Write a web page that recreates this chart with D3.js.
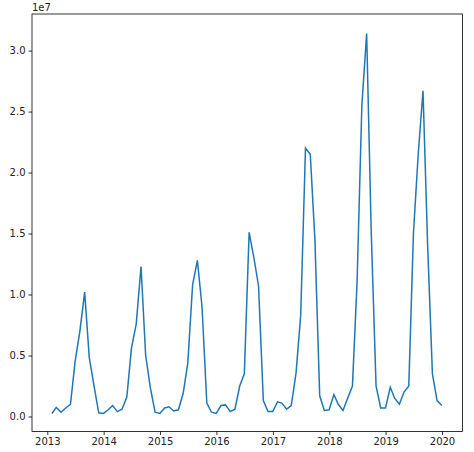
<!DOCTYPE html><html><head><meta charset="utf-8"><script src="https://d3js.org/d3.v7.min.js"></script>
<style>body{margin:0;background:#fff}text{font-family:"DejaVu Sans",sans-serif}</style></head><body><svg id="c" width="474" height="452"></svg>
<script>
const years=[2013,2014,2015,2016,2017,2018,2019];
const values=[
0.25,0.75,0.35,0.7,1.0,4.5,7.0,10.2,4.8,2.5,0.3,0.25,
0.55,0.9,0.4,0.6,1.6,5.6,7.6,12.3,5.0,2.3,0.35,0.25,
0.7,0.8,0.45,0.55,1.9,4.4,10.8,12.8,9.0,1.1,0.35,0.25,
0.9,0.95,0.4,0.6,2.5,3.5,15.1,13.0,10.7,1.3,0.4,0.4,
1.2,1.1,0.6,0.9,3.6,8.3,22.0,21.5,14.5,1.7,0.5,0.55,
1.8,1.0,0.5,1.5,2.5,11.0,25.5,31.4,15.0,2.5,0.7,0.7,
2.4,1.5,1.0,2.0,2.5,15.0,21.5,26.7,14.0,3.5,1.3,0.9].map(v=>v*1e6);
const yTicks=[0,0.5e7,1e7,1.5e7,2e7,2.5e7,3e7];
const xTickYears=[2013,2014,2015,2016,2017,2018,2019,2020];
const data=values.map((v,i)=>({d:new Date(years[0]+Math.floor(i/12),(i%12)+1,0),v}));
const svg=d3.select("#c");
const L=32,R=462.5,T=14,B=431.5;
const x=d3.scaleTime().domain([new Date(2012,9,15),new Date(2020,3,5)]).range([L,R]);
// calibrate x to ref: 2013 at 47.3, 2020 at 442
const x2=d3.scaleTime().domain([new Date(2013,0,1),new Date(2020,0,1)]).range([47.3,442]);
const y=d3.scaleLinear().domain([-0.123e7,3.30e7]).range([B,T]);
svg.append("rect").attr("x",L).attr("y",T).attr("width",R-L).attr("height",B-T).attr("fill","none").attr("stroke","#000").attr("stroke-width",0.8);
const ya=svg.append("g").attr("transform",`translate(${L},0)`).call(d3.axisLeft(y).tickValues(yTicks).tickSize(3.5).tickPadding(3).tickFormat(d=>(d/1e7).toFixed(1)));
const xa=svg.append("g").attr("transform",`translate(0,${B})`).call(d3.axisBottom(x2).tickValues(xTickYears.map(a=>new Date(a,0,1))).tickSize(3.5).tickPadding(3).tickFormat(d3.timeFormat("%Y")));
[ya,xa].forEach(g=>{g.select(".domain").remove();g.selectAll("text").attr("font-size",10).attr("fill","#222");g.selectAll("line").attr("stroke","#000").attr("stroke-width",0.8);});
svg.append("text").attr("x",L).attr("y",11).attr("font-size",10).attr("fill","#222").text("1e7");
svg.append("path").datum(data).attr("fill","none").attr("stroke","#1f77b4").attr("stroke-width",1.5)
 .attr("d",d3.line().x(d=>x2(d.d)).y(d=>y(d.v)));
</script></body></html>
